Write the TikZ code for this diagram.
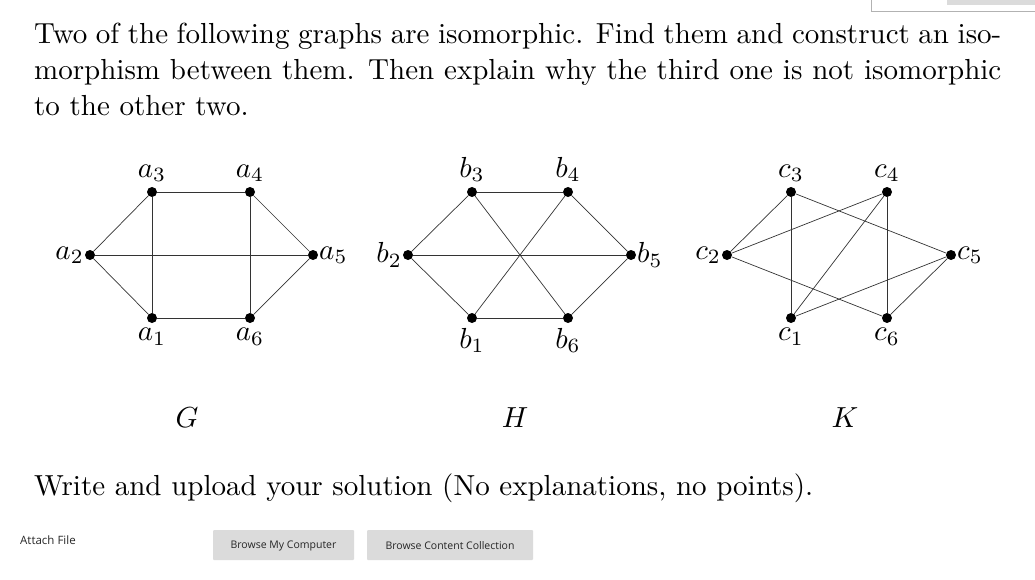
\documentclass[tikz,border=0pt]{standalone}
\usepackage{fontspec}
\newfontfamily\uifont{Open Sans}
\newcommand{\SC}[1]{\scalebox{2.9}{#1}}
\begin{document}
\begin{tikzpicture}[x=1pt,y=-1pt,
  v/.style={circle,fill=black,inner sep=0pt,minimum size=10pt},
  e/.style={draw=black!80,line width=0.7pt},
  lab/.style={inner sep=0pt},
  btn/.style={fill=black!14,draw=none,rounded corners=1pt},
  ui/.style={font=\uifont\fontsize{11.5}{12}\selectfont,text=black!85}]
\useasboundingbox (0,0) rectangle (1035,580);
\draw[black!30,line width=1pt] (871,-2) rectangle (1035,12);
\fill[black!14] (947,0) rectangle (1035,5);
\node[anchor=north west,inner sep=0pt] (title) at (34,23)
 {\SC{\parbox[t]{333.5pt}{\fontsize{10}{12.4}\selectfont\noindent Two of the following graphs are isomorphic. Find them and construct an iso-\linebreak morphism between them. Then explain why the third one is not isomorphic\linebreak to the other two.}}};
\foreach \n/\x/\y in {a1/152/318,a2/90/255,a3/152/192,a4/250/192,a5/313/255,a6/250/318,
 b1/472/318,b2/408/255,b3/472/192,b4/568/192,b5/631/255,b6/568/318,
 c1/791/318,c2/727/255,c3/791/192,c4/887/192,c5/951/255,c6/887/318}
  \node[v] (\n) at (\x,\y) {};
\foreach \a/\b in {a2/a3,a3/a4,a4/a5,a5/a6,a6/a1,a1/a2,a2/a5,a3/a1,a4/a6,
 b2/b3,b3/b4,b4/b5,b5/b6,b6/b1,b1/b2,b2/b5,b3/b6,b4/b1,
 c2/c3,c2/c4,c2/c6,c3/c1,c3/c5,c4/c1,c4/c6,c5/c1,c5/c6}
  \draw[e] (\a) -- (\b);
\foreach \l in {a,b,c}{
  \node[lab,above=10pt] at (\l3) {\SC{$\l_3$}};
  \node[lab,above=10pt] at (\l4) {\SC{$\l_4$}};
  \node[lab,below=10pt] at (\l1) {\SC{$\l_1$}};
  \node[lab,below=10pt] at (\l6) {\SC{$\l_6$}};
  \node[lab,left=6pt] at (\l2) {\SC{$\l_2$}};
  \node[lab,right=6pt] at (\l5) {\SC{$\l_5$}};
}
\node[lab] (G) at (187,418) {\SC{$G$}};
\node[lab] (H) at (515,418) {\SC{$H$}};
\node[lab] (K) at (845,418) {\SC{$K$}};
\node[anchor=west,inner sep=0pt] (w) at (34,488) {\SC{Write and upload your solution (No explanations, no points).}};
\node[ui,anchor=west,inner sep=0pt] (att) at (20,540) {Attach File};
\path[btn] (213,530) rectangle (354,560);
\node[ui,font=\uifont\fontsize{10.5}{11}\selectfont] (b1t) at (283.5,545.5) {Browse My Computer};
\path[btn] (367,530) rectangle (533,560);
\node[ui,font=\uifont\fontsize{10.5}{11}\selectfont] (b2t) at (450,545.5) {Browse Content Collection};
\end{tikzpicture}
\end{document}
